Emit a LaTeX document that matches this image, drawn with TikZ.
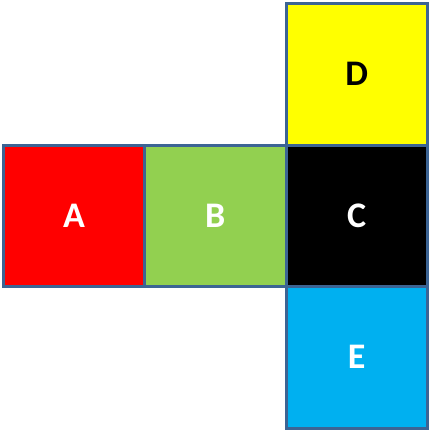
\documentclass[tikz,border=0pt]{standalone}
\usepackage{fontspec}
\setmainfont{Carlito}
\definecolor{edge}{HTML}{3C6494}
\definecolor{cred}{HTML}{FF0000}
\definecolor{cgreen}{HTML}{92D050}
\definecolor{cyellow}{HTML}{FFFF00}
\definecolor{cblue}{HTML}{00B0F0}
\begin{document}
\begin{tikzpicture}[x=1pt,y=-1pt,
  face/.style={draw=edge,line width=3pt,minimum size=141.5pt,inner sep=0pt,outer sep=0pt,
    font=\fontsize{36}{40}\selectfont\bfseries}]
\useasboundingbox (0,0) rectangle (431,432);
\node[face,fill=cred,text=white] (A) at (74,215.75) {A};
\node[face,fill=cgreen,text=white] (B) at (215.25,215.75) {B};
\node[face,fill=black,text=white] (C) at (356.75,215.75) {C};
\node[face,fill=cyellow,text=black] (D) at (356.75,74.25) {D};
\node[face,fill=cblue,text=white] (E) at (356.75,357.25) {E};
\end{tikzpicture}
\end{document}
